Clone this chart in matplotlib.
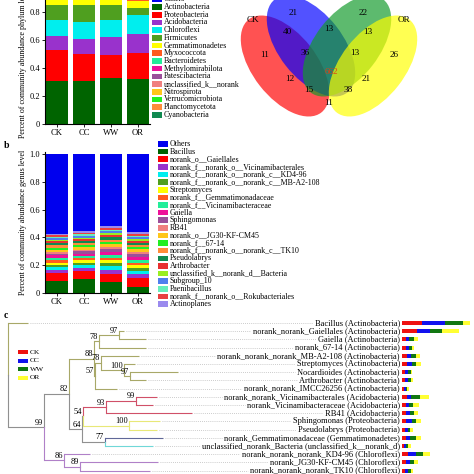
import matplotlib
matplotlib.use("Agg")
import matplotlib.pyplot as plt
from matplotlib.patches import Ellipse, Rectangle
import numpy as np

plt.rcParams['font.family'] = ['Liberation Serif', 'DejaVu Serif']
FS = 5.4

samples = ["CK", "CC", "WW", "OR"]

# ---------- panel a: phylum ----------
phyla = ["Others", "Actinobacteria", "Proteobacteria", "Acidobacteria", "Chloroflexi", "Firmicutes",
         "Gemmatimonadetes", "Myxococcota", "Bacteroidetes", "Methylomirabilota", "Patescibacteria",
         "unclassified_k__norank", "Nitrospirota", "Verrucomicrobiota", "Planctomycetota", "Cyanobacteria"]
phyla_colors = ["#0000ee", "#006400", "#ff0000", "#9932cc", "#00eeee", "#4f9f1f", "#ffff00", "#ff5a1f",
                "#22ee99", "#ee1199", "#9a4f9a", "#f08080", "#ffc61a", "#22ee22", "#ff8c3a", "#108a50"]
phy_actino = [0.31, 0.31, 0.33, 0.32]
phy_proteo = [0.22, 0.19, 0.16, 0.19]
phy_acido = [0.10, 0.11, 0.13, 0.13]
phy_chloro = [0.11, 0.12, 0.12, 0.14]
phy_firmi = [0.11, 0.12, 0.11, 0.05]
phy_gemma = [0.04, 0.04, 0.04, 0.05]
phy_myxo = [0.02, 0.02, 0.02, 0.02]
phy_bacter = [0.015, 0.015, 0.015, 0.015]
phy_methyl = [0.01, 0.01, 0.01, 0.01]
phy_pates = [0.01, 0.01, 0.01, 0.01]
phy_uncl = [0.01, 0.01, 0.01, 0.01]
phy_nitro = [0.008, 0.008, 0.008, 0.008]
phy_verru = [0.008, 0.008, 0.008, 0.008]
phy_plancto = [0.006, 0.006, 0.006, 0.006]
phy_cyano = [0.005, 0.005, 0.005, 0.005]
phy_series = [phy_actino, phy_proteo, phy_acido, phy_chloro, phy_firmi, phy_gemma, phy_myxo, phy_bacter,
              phy_methyl, phy_pates, phy_uncl, phy_nitro, phy_verru, phy_plancto, phy_cyano]
phy_others = list(1 - np.sum(phy_series, axis=0))

# ---------- panel b: genus ----------
genera = ["Others", "Bacillus", "norank_o__Gaiellales", "norank_f__norank_o__Vicinamibacterales",
          "norank_f__norank_o__norank_c__KD4-96", "norank_f__norank_o__norank_c__MB-A2-108", "Streptomyces",
          "norank_f__Gemmatimonadaceae", "norank_f__Vicinamibacteraceae", "Gaiella", "Sphingomonas", "RB41",
          "norank_o__JG30-KF-CM45", "norank_f__67-14", "norank_f__norank_o__norank_c__TK10", "Pseudolabrys",
          "Arthrobacter", "unclassified_k__norank_d__Bacteria", "Subgroup_10", "Paenibacillus",
          "norank_f__norank_o__Rokubacteriales", "Actinoplanes"]
genus_colors = ["#0000ee", "#006400", "#ff0000", "#9932cc", "#00eeee", "#4f9f1f", "#ffff00", "#ff5a1f",
                "#22ee99", "#ee1199", "#9a4f9a", "#f08080", "#ffc61a", "#22ee22", "#ff8c3a", "#108a50",
                "#e83030", "#99ee22", "#4f7fee", "#66eebb", "#e84040", "#9a8aee"]
gen_values = [
    [0.085, 0.100, 0.080, 0.040],  # Bacillus
    [0.060, 0.060, 0.055, 0.065],  # Gaiellales
    [0.020, 0.018, 0.030, 0.030],
    [0.020, 0.024, 0.030, 0.025],
    [0.018, 0.016, 0.020, 0.020],
    [0.016, 0.016, 0.022, 0.018],
    [0.016, 0.017, 0.018, 0.020],
    [0.015, 0.015, 0.020, 0.018],
    [0.020, 0.018, 0.020, 0.022],
    [0.014, 0.015, 0.020, 0.020],
    [0.012, 0.014, 0.015, 0.016],
    [0.016, 0.017, 0.020, 0.020],
    [0.014, 0.015, 0.018, 0.017],
    [0.016, 0.014, 0.017, 0.015],
    [0.015, 0.015, 0.018, 0.016],
    [0.014, 0.013, 0.015, 0.015],
    [0.012, 0.012, 0.014, 0.012],
    [0.011, 0.012, 0.013, 0.012],
    [0.010, 0.011, 0.012, 0.012],
    [0.010, 0.011, 0.012, 0.011],
    [0.010, 0.010, 0.010, 0.012],
]
gen_others = list(1 - np.sum(gen_values, axis=0))

# ---------- Venn ----------
venn_labels = ["CK", "CC", "WW", "OR"]
venn_counts = [21, 22, 40, 13, 13, 11, 36, 13, 26, 662, 12, 21, 15, 38, 11]

# ---------- tree ----------
leaf_names = ["Bacillus (Actinobacteria)", "norank_norank_Gaiellales (Actinobacteria)", "Gaiella (Actinobacteria)",
              "norank_67-14 (Actinobacteria)", "norank_norank_norank_MB-A2-108 (Actinobacteria)",
              "Streptomyces (Actinobacteria)", "Nocardioides (Actinobacteria)", "Arthrobacter (Actinobacteria)",
              "norank_norank_IMCC26256 (Actinobacteria)", "norank_norank_Vicinamibacterales (Acidobacteria)",
              "norank_Vicinamibacteraceae (Acidobacteria)", "RB41 (Acidobacteria)", "Sphingomonas (Proteobacteria)",
              "Pseudolabrys (Proteobacteria)", "norank_Gemmatimonadaceae (Gemmatimonadetes)",
              "unclassified_norank_Bacteria (unclassified_k__norank_d)", "norank_norank_norank_KD4-96 (Chloroflexi)",
              "norank_JG30-KF-CM45 (Chloroflexi)", "norank_norank_norank_TK10 (Chloroflexi)"]
tree_CK = [20, 15, 4, 4, 5, 5, 3, 3, 2, 5, 4, 4, 4, 3, 4, 2, 6, 4, 3]
tree_CC = [23, 13, 3, 3, 4, 5, 3, 3, 2, 4, 3, 4, 6, 3, 4, 2, 8, 4, 3]
tree_WW = [18, 12, 5, 3, 5, 4, 3, 3, 1, 9, 4, 4, 4, 2, 6, 2, 7, 4, 3]
tree_OR = [7, 17, 4, 2, 4, 5, 1, 2, 2, 9, 6, 4, 5, 3, 5, 3, 7, 4, 2]

fig = plt.figure(figsize=(4.74, 4.74), dpi=100)
W = H = 474.0

def pax(l, t, r, b):
    return fig.add_axes([l / W, 1 - b / H, (r - l) / W, (b - t) / H])

ov = fig.add_axes([0, 0, 1, 1], zorder=0)
ov.set_xlim(0, W); ov.set_ylim(H, 0); ov.axis('off')

def stack_ax(ax, series, colors, ylim, yticks, ylabel):
    x = np.arange(4)
    bottom = np.zeros(4)
    for s, c in zip(series, colors):
        ax.bar(x, s, bottom=bottom, color=c, width=0.8, linewidth=0)
        bottom += np.array(s)
    ax.set_xlim(-0.45, 3.45)
    ax.set_ylim(*ylim)
    ax.set_yticks(yticks)
    ax.set_xticks(x); ax.set_xticklabels(samples, fontsize=FS + 0.8)
    for sp in ["top", "right"]:
        ax.spines[sp].set_visible(False)
    ax.tick_params(length=2, width=0.6, pad=1.5)
    ax.set_ylabel(ylabel, fontsize=FS + 0.4, labelpad=2)

axa = pax(45, 0, 150, 124)
stack_ax(axa, phy_series + [phy_others], phyla_colors[1:] + [phyla_colors[0]], (0, 0.886),
         [0, 0.2, 0.4, 0.6, 0.8], "Percent of community abundance phylum level")
axa.set_yticklabels(["0", "0.2", "0.4", "0.6", "0.8"], fontsize=FS + 0.6)

axb = pax(45, 152, 150, 293)
stack_ax(axb, gen_values + [gen_others], genus_colors[1:] + [genus_colors[0]], (0, 1.015),
         [0, 0.2, 0.4, 0.6, 0.8, 1.0], "Percent of community abundance genus level")
axb.set_yticklabels(["0", "0.2", "0.4", "0.6", "0.8", "1.0"], fontsize=FS + 0.6)

def draw_legend(names, colors, x0, y0, dy):
    for i, (n, c) in enumerate(zip(names, colors)):
        y = y0 + dy * i
        ov.add_patch(Rectangle((x0, y - 2.8), 10, 5.6, color=c, lw=0))
        ov.text(x0 + 11.5, y, n, fontsize=FS + 0.3, va='center', ha='left')

draw_legend(phyla, phyla_colors, 152, -0.7, 7.7)
draw_legend(genera, genus_colors, 158, 144, 7.62)

ov.text(4, 146, "b", fontsize=7, fontweight='bold', va='center')
ov.text(4, 315, "c", fontsize=7, fontweight='bold', va='center')

# Venn
ell = [((285, 66), -52, "#ff0000"), ((311, 46), -52, "#0000ff"),
       ((347, 46), 52, "#119a2a"), ((373, 66), 52, "#ffff00")]
for (c, ang, col) in ell:
    ov.add_patch(Ellipse(c, 118, 64, angle=-ang, facecolor=col, alpha=0.68, edgecolor='none'))
venn_pos = [(293, 13), (363, 13), (287, 32), (329, 29), (368, 32), (265, 55), (305, 53), (355, 53),
            (394, 55), (331, 72), (290, 79), (366, 79), (309, 90), (348, 90), (329, 103)]
for (p, v) in zip(venn_pos, venn_counts):
    ov.text(p[0], p[1], str(v), fontsize=FS + 1.2, ha='center', va='center',
            color="#e04010" if v == 662 else "black")
ov.text(253, 20, venn_labels[0], fontsize=FS + 1.2, ha='center', va='center')
ov.text(404, 20, venn_labels[3], fontsize=FS + 1.2, ha='center', va='center')

# tree
tips = dict(zip(range(19), [28, 124, 146, 146, 139, 135, 178, 146, 117, 157, 153, 192, 160, 157, 163, 153, 90, 158, 150]))
nodes = {
    "R": (8, None, [0, "N99"]),
    "N99": (44, 99, ["N82", "N86"]),
    "N82": (69, 82, ["N88", "N64"]),
    "N88": (94, 88, ["N78a", "N57"]),
    "N78a": (99, 78, ["N97a", 3]),
    "N97a": (119, 97, [1, 2]),
    "N57": (95, 57, ["N78b", 8]),
    "N78b": (101, 78, [4, "N100a"]),
    "N100a": (124, 100, [5, "N97b"]),
    "N97b": (130, 97, [6, 7]),
    "N64": (82, 64, ["N54", "N77"]),
    "N54": (83, 54, ["N93", "N100b"]),
    "N93": (106, 93, ["N99b", 11]),
    "N99b": (136, 99, [9, 10]),
    "N100b": (129, 100, [12, 13]),
    "N77": (105, 77, [14, 15]),
    "N86": (64, 86, [16, "N89"]),
    "N89": (80, 89, [17, 18]),
}
phylum_of = [n.split("(")[-1].rstrip(")") for n in leaf_names]
clade_col = {"Actinobacteria": "#a8a868", "Acidobacteria": "#d05068", "Proteobacteria": "#e8e878",
             "Gemmatimonadetes": "#606898", "unclassified_k__norank_d": "#70d8d8", "Chloroflexi": "#b080c8"}
rowy = lambda i: 323 + 8.2 * i

def info(n):
    if isinstance(n, int):
        return tips[n], rowy(n), {phylum_of[n]}
    x, s, ch = nodes[n]
    ys, ph = [], set()
    for c in ch:
        _, cy, cp = info(c)
        ys.append(cy); ph |= cp
    return x, (min(ys) + max(ys)) / 2, ph

def draw(n):
    x, s, ch = nodes[n]
    _, y, _ = info(n)
    for c in ch:
        cx, cy, cp = info(c)
        col = clade_col[list(cp)[0]] if len(cp) == 1 else "#909090"
        ov.plot([x, cx], [cy, cy], color=col, lw=0.8, solid_capstyle='butt')
        ov.plot([x, x], [y, cy], color=col, lw=0.8)
        if not isinstance(c, int):
            draw(c)
    if s is not None:
        ov.text(x - 1, y - 0.5, str(s), fontsize=FS + 0.6, ha='right', va='bottom')
draw("R")

fig.canvas.draw()
rend = fig.canvas.get_renderer()
inv = ov.transData.inverted()
for i, name in enumerate(leaf_names):
    y = rowy(i)
    t = ov.text(400, y, name, fontsize=FS + 0.6, ha='right', va='center')
    bb = t.get_window_extent(rend)
    xl = inv.transform((bb.x0, 0))[0]
    ov.plot([tips[i] + 2, xl - 2], [y, y], color="#bbbbbb", lw=0.6, ls=(0, (1, 1.5)))
    x0 = 402
    for v, col in zip([tree_CK[i], tree_CC[i], tree_WW[i], tree_OR[i]],
                      ["#ee1111", "#1111ee", "#117711", "#ffff33"]):
        ov.add_patch(Rectangle((x0, y - 2), v, 4, color=col, lw=0))
        x0 += v

for j, (s, col) in enumerate(zip(samples, ["#ee1111", "#1111ee", "#117711", "#ffff33"])):
    y = 352 + 8.6 * j
    ov.add_patch(Rectangle((18, y - 2), 10, 4, color=col, lw=0))
    ov.text(30, y, s, fontsize=FS, va='center')

fig.savefig("out.png", dpi=100)
